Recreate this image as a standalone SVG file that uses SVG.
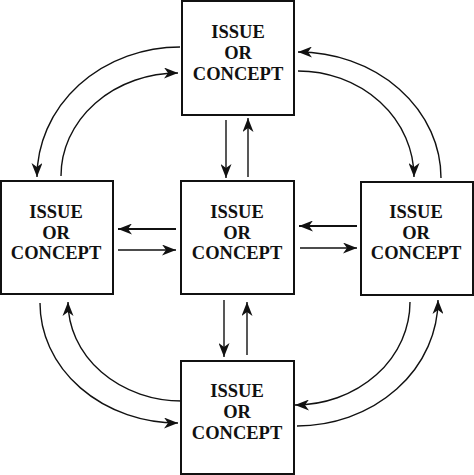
<svg xmlns="http://www.w3.org/2000/svg" width="474" height="475" viewBox="0 0 474 475">
<style>
.box{fill:#fff;stroke:#111;stroke-width:2}
.lbl{font-family:"Liberation Serif","Times New Roman",serif;font-weight:bold;font-size:18.5px;fill:#111;text-anchor:middle}
.c{fill:none;stroke:#111;stroke-width:1.4;marker-end:url(#ah)}
</style>
<defs>
<marker id="ah" markerUnits="userSpaceOnUse" markerWidth="15" markerHeight="11" refX="14" refY="5.5" orient="auto">
<path d="M0,0 L14,5.5 L0,11 L4,5.5 z" fill="#111"/>
</marker>
</defs>
<rect width="474" height="475" fill="#fff"/>
<g id="node-top"><rect class="box" x="182" y="1" width="112" height="114"/>
<text class="lbl" x="238" y="38">ISSUE</text><text class="lbl" x="238" y="59">OR</text><text class="lbl" x="238" y="80">CONCEPT</text></g>
<g id="node-left"><rect class="box" x="1" y="181" width="112" height="113"/>
<text class="lbl" x="56" y="218">ISSUE</text><text class="lbl" x="56" y="239">OR</text><text class="lbl" x="56" y="259">CONCEPT</text></g>
<g id="node-center"><rect class="box" x="181" y="181" width="113" height="113"/>
<text class="lbl" x="237" y="218">ISSUE</text><text class="lbl" x="237" y="239">OR</text><text class="lbl" x="237" y="259">CONCEPT</text></g>
<g id="node-right"><rect class="box" x="361" y="182" width="112" height="113"/>
<text class="lbl" x="416" y="218">ISSUE</text><text class="lbl" x="416" y="239">OR</text><text class="lbl" x="416" y="259">CONCEPT</text></g>
<g id="node-bottom"><rect class="box" x="181" y="361" width="113" height="113"/>
<text class="lbl" x="237" y="397">ISSUE</text><text class="lbl" x="237" y="418">OR</text><text class="lbl" x="237" y="439">CONCEPT</text></g>
<g id="connectors">
<path class="c" d="M226,120 L226,178"/>
<path class="c" d="M248,177 L248,118"/>
<path class="c" d="M224,300 L224,357"/>
<path class="c" d="M247,355 L247,302"/>
<path class="c" d="M176,229 L118,229" style="stroke-width:2"/>
<path class="c" d="M118,250 L176,250"/>
<path class="c" d="M357,226 L299,226" style="stroke-width:2"/>
<path class="c" d="M300,248 L357,248"/>
<path class="c" d="M180,47 A143,130 0 0 0 37,177"/>
<path class="c" d="M61,176 A117,103 0 0 1 178,73"/>
<path class="c" d="M441,178 A143,126 0 0 0 298,52"/>
<path class="c" d="M298,71 A116,106 0 0 1 414,177"/>
<path class="c" d="M40,303 A138,120 0 0 0 178,423"/>
<path class="c" d="M182,401 A114,99 0 0 1 68,302"/>
<path class="c" d="M410,302 A115,103 0 0 1 295,405"/>
<path class="c" d="M297,426 A141,126 0 0 0 438,300"/>
</g>
</svg>
